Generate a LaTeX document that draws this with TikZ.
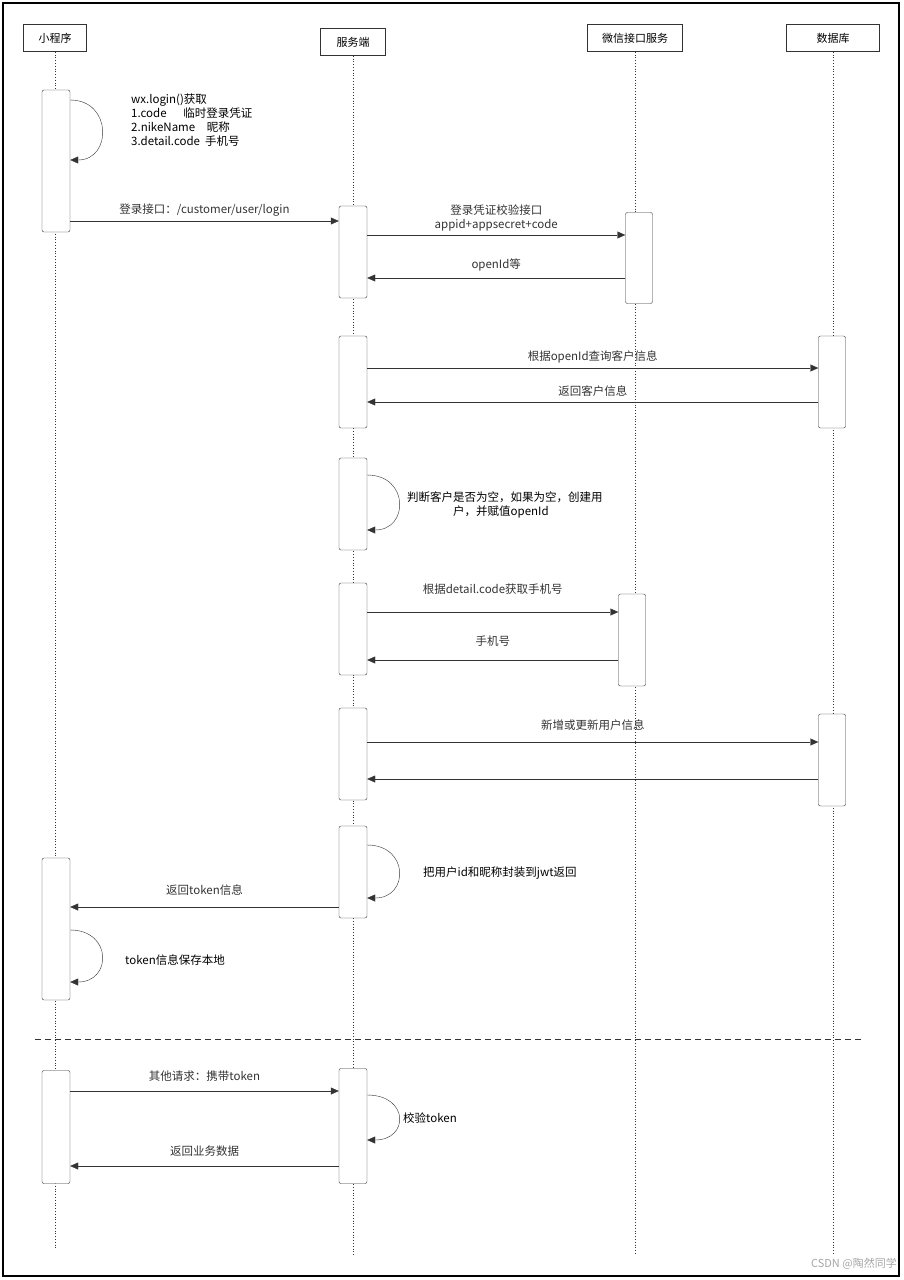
\documentclass[tikz,border=0pt]{standalone}
\usepackage{fontspec}
\setmainfont{Noto Sans CJK SC}
\usetikzlibrary{arrows.meta}
\definecolor{ink}{HTML}{333333}
\tikzset{
  head/.style={draw=ink, fill=white, minimum height=27pt, inner sep=2pt, font=\fontsize{11}{13}\selectfont},
  act/.style={draw=ink, fill=white, rounded corners=2pt, minimum width=28pt, inner sep=0pt},
  life/.style={ink, thick, dotted},
  msg/.style={ink, -{Triangle[length=8pt,width=7pt]}},
  lbl/.style={font=\fontsize{11.5}{14}\selectfont, inner sep=1pt}
}
\newcommand{\selfloop}[2]{\draw[msg] (#1) .. controls ++(42pt,0) and ++(42pt,0) .. (#2);}
\begin{document}
\begin{tikzpicture}[x=1pt, y=-1pt]
\useasboundingbox (0,0) rectangle (903,1280);
\draw[line width=1.5pt] (3,3) rectangle (899,1276);
% heads
\node[head, minimum width=63pt] (mp) at (55,38) {小程序};
\node[head, minimum width=65pt] (sv) at (353,42) {服务端};
\node[head, minimum width=95pt] (wx) at (635,38) {微信接口服务};
\node[head, minimum width=93pt] (db) at (833,38) {数据库};
\draw[life] (mp.south) -- (55,1250);
\draw[life] (sv.south) -- (353,1255);
\draw[life] (wx.south) -- (635,1255);
\draw[life] (db.south) -- (833,1255);
% activations
\node[act, minimum height=142pt] (m1) at (56,161) {};
\node[act, minimum height=142pt] (m2) at (56,929) {};
\node[act, minimum height=113pt] (m3) at (56,1127) {};
\node[act, minimum height=92pt] (s1) at (353,252) {};
\node[act, minimum height=92pt] (s2) at (353,382) {};
\node[act, minimum height=92pt] (s3) at (353,504) {};
\node[act, minimum height=92pt] (s4) at (353,629) {};
\node[act, minimum height=92pt] (s5) at (353,754) {};
\node[act, minimum height=92pt] (s6) at (353,872) {};
\node[act, minimum height=115pt] (s7) at (353,1126) {};
\node[act, minimum height=91pt, minimum width=27pt] (w1) at (639,258) {};
\node[act, minimum height=92pt, minimum width=27pt] (w2) at (632,640) {};
\node[act, minimum height=92pt, minimum width=27pt] (d1) at (832,382) {};
\node[act, minimum height=92pt, minimum width=27pt] (d2) at (832,760) {};
% messages
\selfloop{m1.east |- 0,100}{m1.east |- 0,160}
\node[lbl, anchor=north west, align=left] (t1) at (130,93) {wx.login()获取\\1.code\quad\ \ 临时登录凭证\\2.nikeName\quad 昵称\\3.detail.code\ \ 手机号};
\draw[msg] (m1.east |- 0,221) -- node[lbl, above=3pt] {登录接口：/customer/user/login} (s1.west |- 0,221);
\draw[msg] (s1.east |- 0,235) -- node[lbl, above=3pt, align=center] {登录凭证校验接口\\appid+appsecret+code} (w1.west |- 0,235);
\draw[msg] (w1.west |- 0,278) -- node[lbl, above=6pt] {openId等} (s1.east |- 0,278);
\draw[msg] (s2.east |- 0,368) -- node[lbl, above=4pt] {根据openId查询客户信息} (d1.west |- 0,368);
\draw[msg] (d1.west |- 0,402) -- node[lbl, above=4pt] {返回客户信息} (s2.east |- 0,402);
\selfloop{s3.east |- 0,475}{s3.east |- 0,530}
\node[lbl, anchor=west, align=left] (t2) at (406,505) {判断客户是否为空，如果为空，创建用\\\hspace*{4em}户，并赋值openId};
\draw[msg] (s4.east |- 0,612) -- node[lbl, above=16pt] {根据detail.code获取手机号} (w2.west |- 0,612);
\draw[msg] (w2.west |- 0,660) -- node[lbl, above=12pt] {手机号} (s4.east |- 0,660);
\draw[msg] (s5.east |- 0,742) -- node[lbl, above=10pt] {新增或更新用户信息} (d2.west |- 0,742);
\draw[msg] (d2.west |- 0,779) -- (s5.east |- 0,779);
\selfloop{s6.east |- 0,845}{s6.east |- 0,898}
\node[lbl, anchor=west] (t3) at (422,873) {把用户id和昵称封装到jwt返回};
\draw[msg] (s6.west |- 0,907) -- node[lbl, above=10pt] {返回token信息} (m2.east |- 0,907);
\selfloop{m2.east |- 0,930}{m2.east |- 0,982}
\node[lbl, anchor=west] (t4) at (124,960) {token信息保存本地};
\draw[ink, dashed, dash pattern=on 6pt off 4pt] (35,1039) -- (862,1039);
\draw[msg] (m3.east |- 0,1091) -- node[lbl, above=8pt] {其他请求：携带token} (s7.west |- 0,1091);
\selfloop{s7.east |- 0,1095}{s7.east |- 0,1140}
\node[lbl, anchor=west] (t5) at (402,1118) {校验token};
\draw[msg] (s7.west |- 0,1166) -- node[lbl, above=8pt] {返回业务数据} (m3.east |- 0,1166);
\node[lbl, anchor=east, text=gray!70, font=\fontsize{11}{13}\selectfont] (wm) at (898,1264) {CSDN @陶然同学};
\end{tikzpicture}
\end{document}
